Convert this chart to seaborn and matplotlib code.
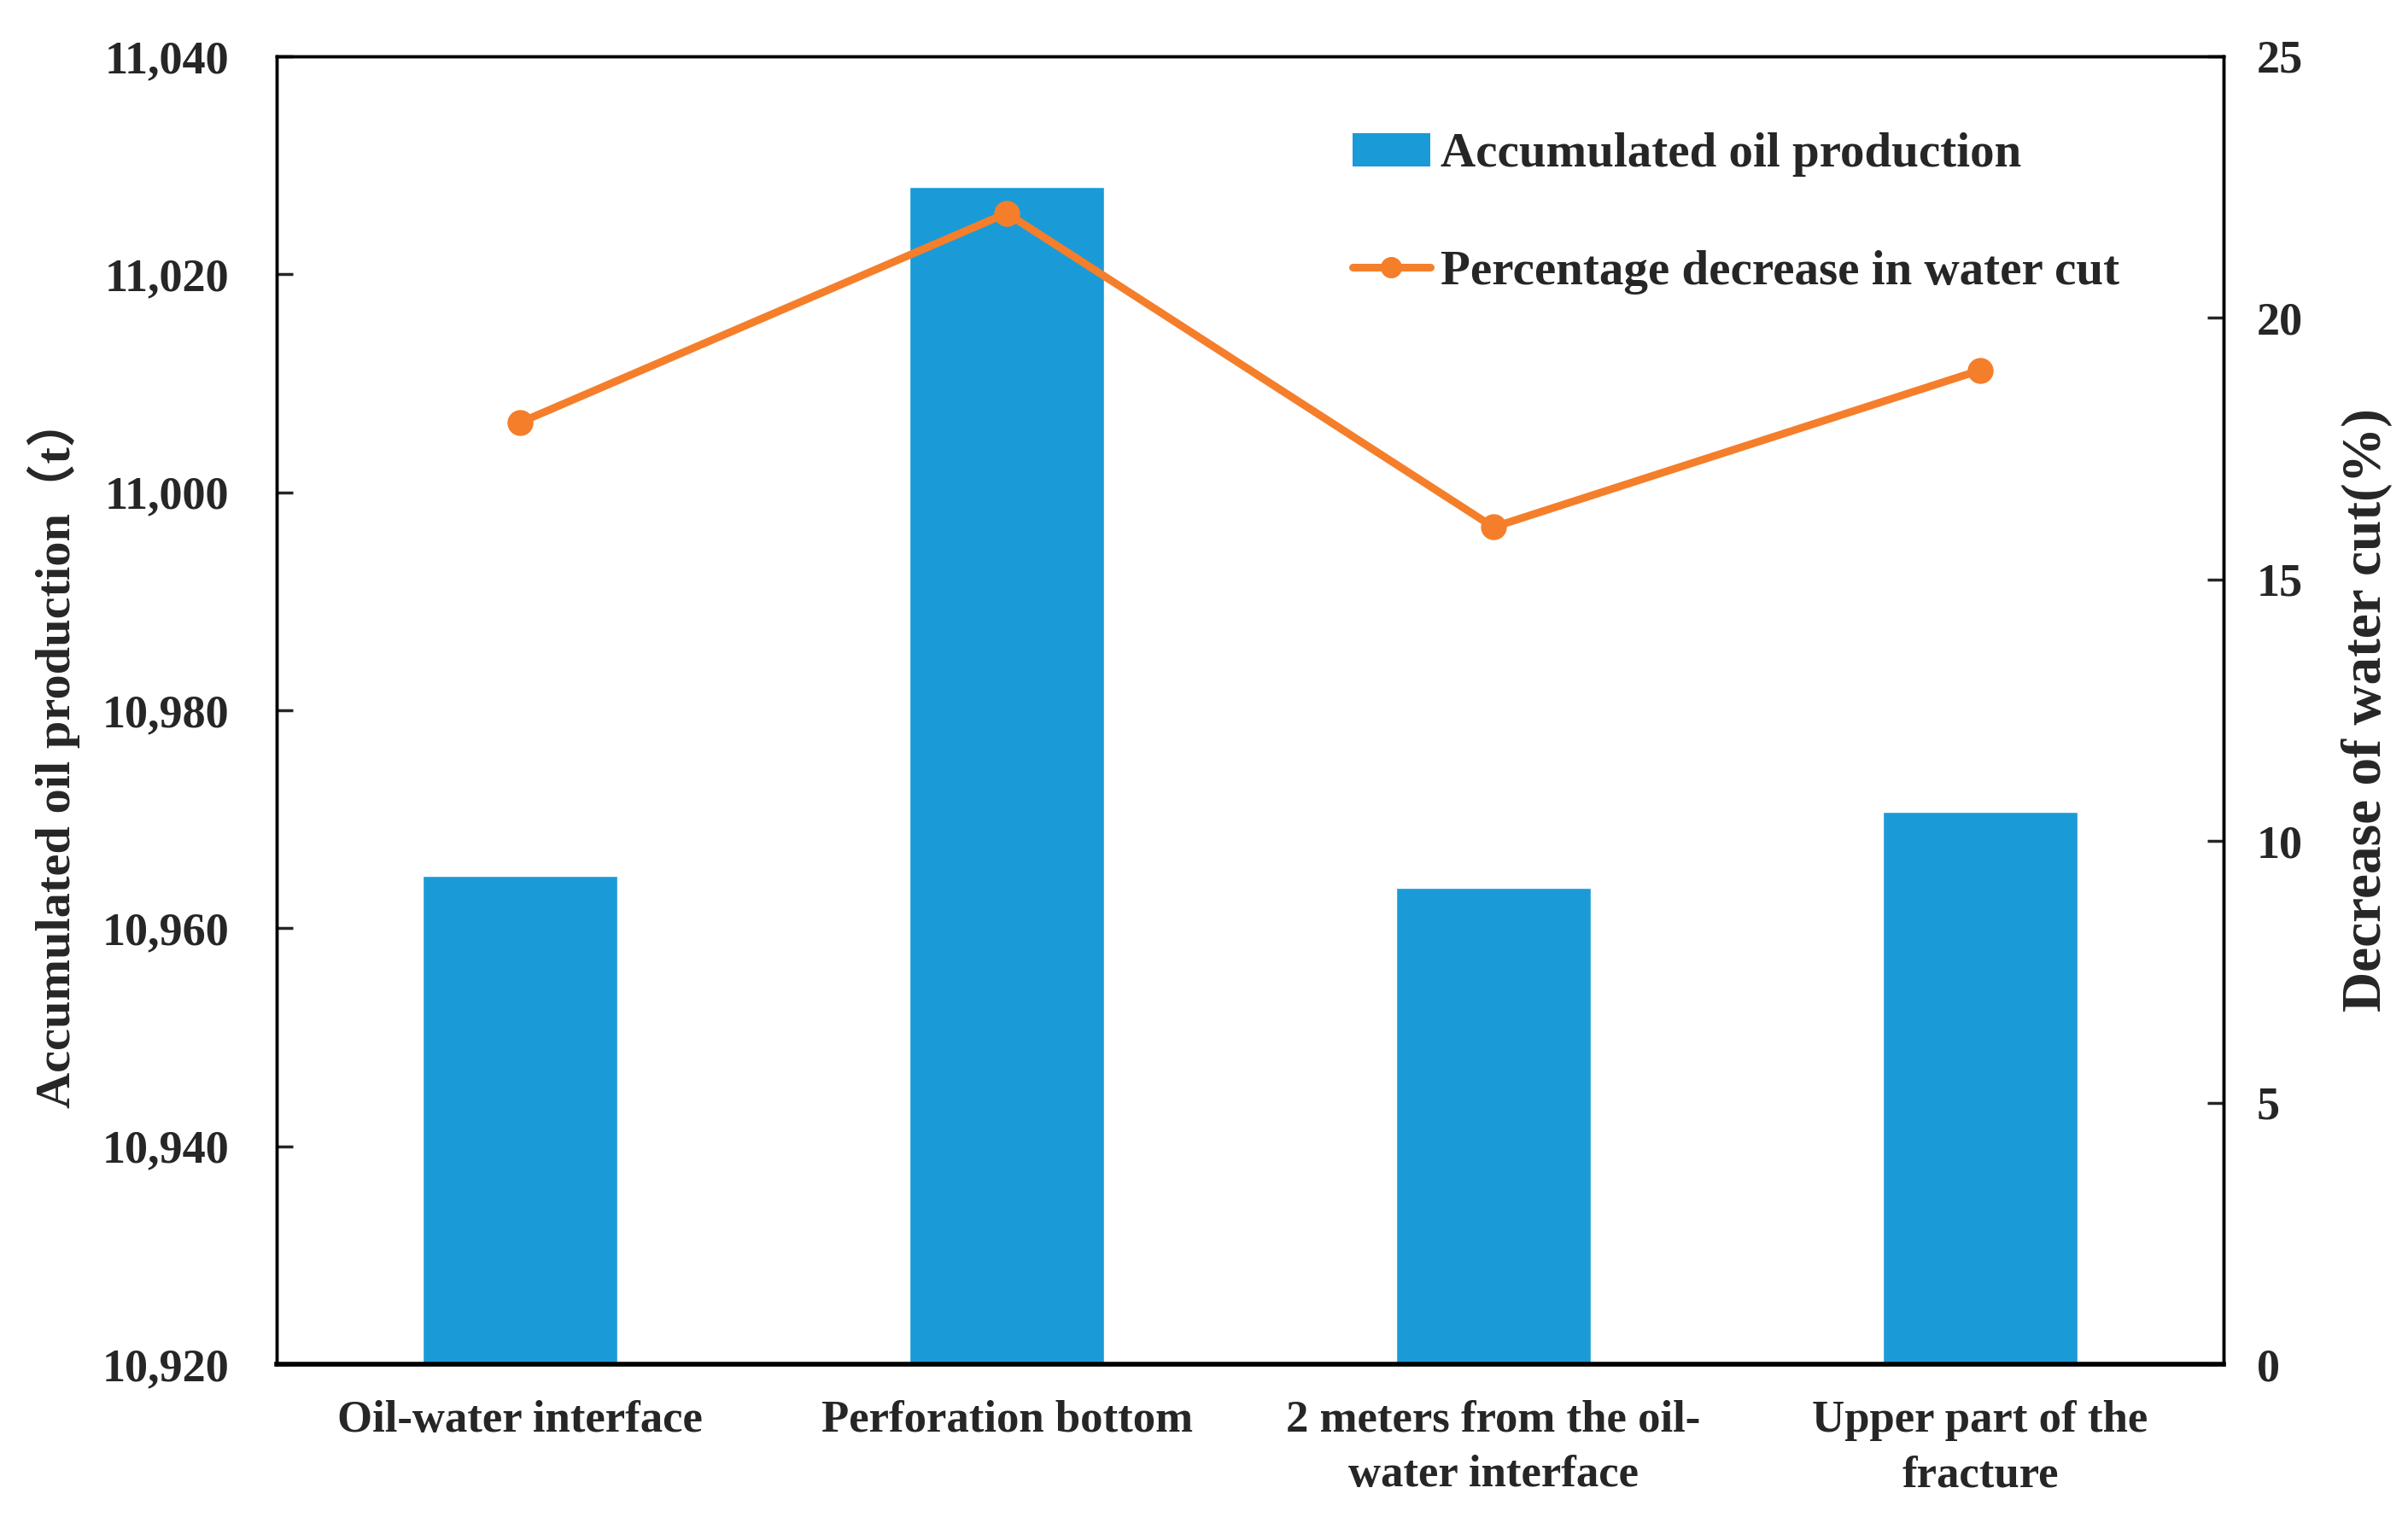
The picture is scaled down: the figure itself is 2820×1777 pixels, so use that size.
import matplotlib
matplotlib.use("Agg")
import matplotlib.pyplot as plt
import matplotlib.ticker as mticker
from matplotlib.patches import Patch
from matplotlib.lines import Line2D
import seaborn as sns
import pandas as pd

categories = ["Oil-water interface", "Perforation bottom",
              "2 meters from the oil-\nwater interface", "Upper part of the\nfracture"]
oil_production = [10964.8, 11028.0, 10963.7, 10970.7]
water_cut_decrease = [18.0, 22.0, 16.0, 19.0]
left_ticks = [10920, 10940, 10960, 10980, 11000, 11020, 11040]
right_ticks = [0, 5, 10, 15, 20, 25]

BLUE = "#1A9BD7"
ORANGE = "#F57E2B"

sns.set_theme(style="white")
plt.rcParams['font.family'] = ['Liberation Serif', 'DejaVu Serif']
plt.rcParams['font.weight'] = 'bold'

df = pd.DataFrame({"cat": categories, "oil": oil_production, "wc": water_cut_decrease})

fig = plt.figure(figsize=(28.2, 17.77), dpi=100)
ax = fig.add_axes([0.1149, 0.1007, 0.8085, 0.8622])

sns.barplot(data=df, x="cat", y="oil", color=BLUE, width=0.4, saturation=1, ax=ax)
ax.set_ylim(10920, 11040)
ax.set_yticks(left_ticks)
ax.yaxis.set_major_formatter(mticker.FuncFormatter(lambda v, p: f"{int(v):,}"))
ax.set_xlabel("")
ax.set_ylabel("Accumulated oil production\uff08t\uff09", fontsize=42, fontweight='bold')
ax.yaxis.label.set_family(['Liberation Serif', 'Noto Sans CJK SC'])
ax.yaxis.set_label_coords(-0.101, 0.468)

ax2 = ax.twinx()
sns.pointplot(data=df, x="cat", y="wc", color=ORANGE, markers="o", linestyles="-",
              ax=ax2, markersize=17, linewidth=6.5)
ax2.set_ylim(0, 25)
ax2.set_yticks(right_ticks)
ax2.set_ylabel("Decrease of water cut(%)", fontsize=47, fontweight='bold', labelpad=32)
ax2.set_xlabel("")
ax.set_xlim(-0.5, 3.5)
ax2.set_xlim(-0.5, 3.5)

for a in (ax, ax2):
    for s in a.spines.values():
        s.set_color("black")
        s.set_linewidth(2.5)
ax.spines['bottom'].set_linewidth(4)

ax.tick_params(axis='y', direction='in', length=14, width=2.5, labelsize=39, pad=40, left=True)
ax.tick_params(axis='x', length=0, labelsize=38, pad=30)
ax2.tick_params(axis='y', direction='in', length=14, width=2.5, labelsize=39, pad=28, right=True)
for lab in ax.get_xticklabels() + ax.get_yticklabels() + ax2.get_yticklabels():
    lab.set_fontweight('bold')
for lab in ax.get_xticklabels():
    lab.set_linespacing(1.45)

handles = [Patch(facecolor=BLUE, edgecolor='none'),
           Line2D([0], [0], color=ORANGE, lw=6.5, marker='o', markersize=17)]
labels = ["Accumulated oil production", "Percentage decrease in water cut"]
ax2.legend(handles, labels, loc="upper left", bbox_to_anchor=(0.530, 0.975), frameon=False,
           prop={'size': 41, 'weight': 'bold', 'family': 'Liberation Serif'},
           labelspacing=1.5, handlelength=1.6, handletextpad=0.22)

fig.savefig("out.png", dpi=100)
